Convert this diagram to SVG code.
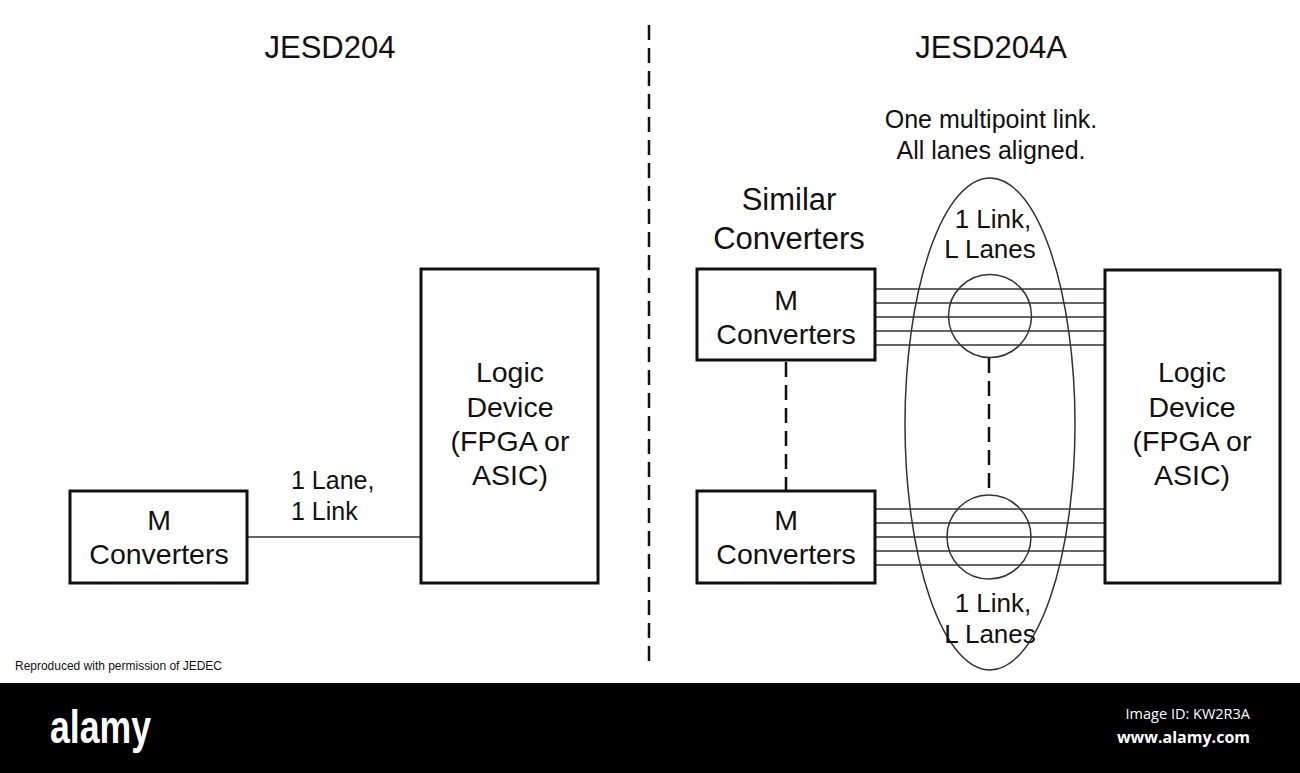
<svg xmlns="http://www.w3.org/2000/svg" width="1300" height="773" viewBox="0 0 1300 773">
<style>
text{font-family:"Liberation Sans",Arial,sans-serif;fill:#111;text-anchor:middle}
.box{fill:#fff;stroke:#111;stroke-width:3}
.t28{font-size:28.5px}
.t31{font-size:31px}
.t25{font-size:25px}
.t26{font-size:26px}
.lane{stroke:#333;stroke-width:1.5;fill:none}
.dash{stroke:#111;stroke-width:2.5;stroke-dasharray:15 8;fill:none}
</style>
<rect width="1300" height="773" fill="#fff"/>
<text class="t31" x="330" y="58">JESD204</text>
<text class="t31" x="991" y="58">JESD204A</text>
<g id="connectors">
<line class="dash" x1="649" y1="25" x2="649" y2="662"/>
<line class="lane" x1="247" y1="537" x2="421" y2="537"/>
<g id="lanes-top">
<line class="lane" x1="875" y1="289" x2="1105" y2="289"/>
<line class="lane" x1="875" y1="303" x2="1105" y2="303"/>
<line class="lane" x1="875" y1="317" x2="1105" y2="317"/>
<line class="lane" x1="875" y1="331" x2="1105" y2="331"/>
<line class="lane" x1="875" y1="345" x2="1105" y2="345"/>
</g>
<g id="lanes-bottom">
<line class="lane" x1="875" y1="509" x2="1105" y2="509"/>
<line class="lane" x1="875" y1="523" x2="1105" y2="523"/>
<line class="lane" x1="875" y1="537" x2="1105" y2="537"/>
<line class="lane" x1="875" y1="551" x2="1105" y2="551"/>
<line class="lane" x1="875" y1="565" x2="1105" y2="565"/>
</g>
<line class="dash" x1="786" y1="362" x2="786" y2="490" stroke-dasharray="16 9"/>
<line class="dash" x1="989" y1="358" x2="989" y2="495" stroke-dasharray="16 9"/>
</g>
<g id="link-oval">
<ellipse class="lane" cx="990" cy="424" rx="85" ry="246"/>
<circle class="lane" cx="990" cy="316" r="41.5"/>
<circle class="lane" cx="989" cy="537" r="42"/>
<text class="t26" x="993" y="228">1 Link,</text>
<text class="t26" x="990" y="258">L Lanes</text>
<text class="t26" x="993" y="612">1 Link,</text>
<text class="t26" x="990" y="643">L Lanes</text>
</g>
<g id="left-converters">
<rect class="box" x="70" y="491" width="177" height="92"/>
<text class="t28" x="159" y="530">M</text>
<text class="t28" x="159" y="564">Converters</text>
</g>
<g id="left-lane-label">
<text class="t25" x="291" y="489" style="text-anchor:start">1 Lane,</text>
<text class="t25" x="291" y="520" style="text-anchor:start">1 Link</text>
</g>
<g id="left-logic">
<rect class="box" x="421" y="269" width="177" height="314"/>
<text class="t28" x="510" y="382">Logic</text>
<text class="t28" x="510" y="417">Device</text>
<text class="t28" x="510" y="451">(FPGA or</text>
<text class="t28" x="510" y="485">ASIC)</text>
</g>
<g id="multipoint-label">
<text class="t25" x="991" y="128">One multipoint link.</text>
<text class="t25" x="991" y="159">All lanes aligned.</text>
</g>
<g id="similar-label">
<text class="t31" x="789" y="210">Similar</text>
<text class="t31" x="789" y="249">Converters</text>
</g>
<g id="right-converters-top">
<rect class="box" x="697" y="269" width="178" height="91"/>
<text class="t28" x="786" y="310">M</text>
<text class="t28" x="786" y="344">Converters</text>
</g>
<g id="right-converters-bottom">
<rect class="box" x="697" y="491" width="178" height="92"/>
<text class="t28" x="786" y="530">M</text>
<text class="t28" x="786" y="564">Converters</text>
</g>
<g id="right-logic">
<rect class="box" x="1105" y="270" width="175" height="313"/>
<text class="t28" x="1192" y="382">Logic</text>
<text class="t28" x="1192" y="417">Device</text>
<text class="t28" x="1192" y="451">(FPGA or</text>
<text class="t28" x="1192" y="485">ASIC)</text>
</g>
<text x="15" y="670" style="text-anchor:start;font-size:12px" textLength="207" lengthAdjust="spacingAndGlyphs">Reproduced with permission of JEDEC</text>
<rect x="0" y="683" width="1300" height="90" fill="#000"/>
<text x="50" y="743" style="text-anchor:start;font-size:46px;font-weight:bold;fill:#fff" textLength="101" lengthAdjust="spacingAndGlyphs">alamy</text>
<text x="1250" y="719" style="text-anchor:end;font-size:14.5px;fill:#fff;font-family:'Open Sans','Noto Sans',sans-serif">Image ID: KW2R3A</text>
<text x="1250" y="743" style="text-anchor:end;font-size:16px;font-weight:bold;fill:#fff;font-family:'Open Sans','Noto Sans',sans-serif">www.alamy.com</text>
</svg>
